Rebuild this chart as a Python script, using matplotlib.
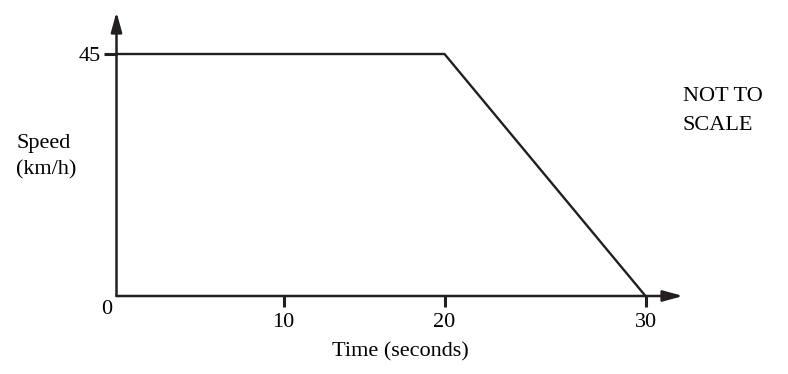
import numpy as np
import matplotlib
matplotlib.use("Agg")
from matplotlib import pyplot as plt

# data
times = [0, 20, 30]
speeds = [45, 45, 0]
x_ticks = [10, 20, 30]
y_ticks = [45]

# the drawing is "not to scale": pixel offsets of each x tick from the origin
scale_vals = [-10, 0, 10, 20, 30, 40]
scale_pix = [-167, 0, 167, 328, 529, 730]

ink = "#231f20"
plt.rcParams["font.family"] = ["Liberation Serif", "DejaVu Serif"]


def fwd(x):
    return np.interp(x, scale_vals, scale_pix)


def inv(p):
    return np.interp(p, scale_pix, scale_vals)


fig = plt.figure(figsize=(7.88, 3.74), dpi=100)
ax = fig.add_axes([116.5 / 788, 78 / 374, 566.5 / 788, 284 / 374])
ax.set_xscale("function", functions=(fwd, inv))
ax.set_xlim(0, inv(566.5))
ax.set_ylim(0, 45 * 284 / 242)

for s in ax.spines.values():
    s.set_visible(False)

# axes drawn as arrows
arrow = dict(arrowstyle="-|>,head_length=1.2,head_width=0.33", lw=1.8,
             color=ink, shrinkA=0, shrinkB=0)
ax.annotate("", xy=(0, 1), xytext=(0, 0), xycoords="axes fraction", arrowprops=arrow)
ax.annotate("", xy=(1, 0), xytext=(0, 0), xycoords="axes fraction", arrowprops=arrow)

ax.plot(times, speeds, color=ink, lw=1.7, solid_joinstyle="miter", clip_on=False)

ax.set_xticks(x_ticks)
ax.set_xticklabels([str(t) for t in x_ticks])
ax.set_yticks(y_ticks)
ax.set_yticklabels([str(t) for t in y_ticks])
ax.tick_params(axis="x", direction="out", length=8, width=2.2, color=ink,
               labelsize=16, pad=4)
ax.tick_params(axis="y", direction="out", length=9.4, width=2.2, color=ink,
               labelsize=16, pad=2)

ax.annotate("0", xy=(0, 0), xytext=(-7, -3), textcoords="offset points",
            ha="center", va="top", fontsize=16)

fig.text(400 / 788, 1 - 352 / 374, "Time (seconds)", ha="center", va="center",
         fontsize=16)
fig.text(16 / 788, 1 - 157 / 374, "Speed\n(km/h)", ha="left", va="center",
         fontsize=16, linespacing=1.48)
fig.text(683 / 788, 1 - 111 / 374, "NOT TO\nSCALE", ha="left", va="center",
         fontsize=16, linespacing=1.7)

fig.savefig("out.png", dpi=100)
